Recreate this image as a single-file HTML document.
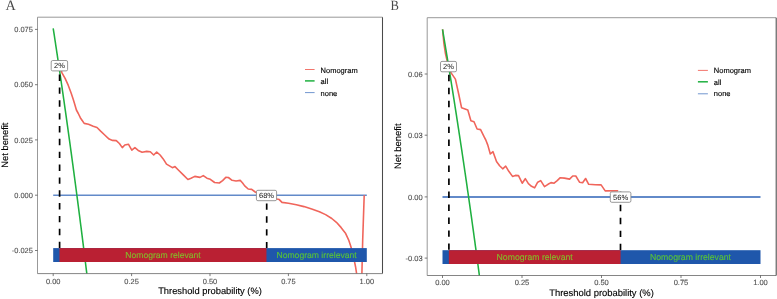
<!DOCTYPE html>
<html><head><meta charset="utf-8"><title>Decision curve analysis</title>
<style>
html,body{margin:0;padding:0;background:#fff;}
svg{display:block;text-rendering:geometricPrecision;font-family:"Liberation Sans",Arial,sans-serif;}
text{stroke-width:0.13px;}
text.tk{stroke-width:0.1px;}
text.lb{stroke-width:0;}
text.ser{font-family:"Liberation Serif","Times New Roman",serif;stroke-width:0;}
</style></head>
<body>
<svg width="777" height="299" viewBox="0 0 777 299">
<rect width="777" height="299" fill="#fff"/>
<clipPath id="ca"><rect x="37.5" y="17.2" width="345.0" height="256.40000000000003"/></clipPath>
<g clip-path="url(#ca)">
<line x1="53.2" y1="195.2" x2="366.8" y2="195.2" stroke="#628AC9" stroke-width="1.6"/>
<path d="M59.60,66.50 L62.10,73.10 L65.10,78.40 L68.20,85.20 L71.20,93.20 L73.20,99.20 L74.50,103.40 L76.40,110.00 L78.30,113.50 L80.30,117.70 L82.20,120.50 L84.20,123.40 L88.50,124.20 L93.20,126.20 L97.00,127.50 L100.90,131.40 L104.70,135.00 L109.10,139.10 L112.50,140.40 L116.30,140.60 L119.40,143.50 L122.30,147.60 L124.80,145.00 L128.40,144.20 L131.80,150.20 L134.90,147.60 L138.20,150.40 L142.10,152.20 L146.70,151.40 L150.30,151.70 L153.70,155.00 L156.70,152.00 L160.10,155.00 L163.20,158.90 L166.50,164.10 L169.90,166.10 L172.40,167.70 L175.00,166.60 L178.10,169.70 L183.30,174.90 L187.90,179.50 L191.00,178.20 L194.80,176.40 L200.00,177.40 L203.30,175.60 L206.90,178.20 L210.30,179.30 L214.60,182.50 L219.30,183.00 L222.60,180.60 L225.80,177.40 L228.40,177.50 L232.10,180.30 L236.00,181.00 L240.20,180.40 L242.40,182.70 L244.70,185.90 L248.20,189.00 L251.70,189.40 L255.20,192.00 L257.50,192.90 L262.00,195.50 L270.00,196.50 L277.00,198.90 L279.30,199.60 L282.00,202.40 L288.50,203.30 L296.30,204.70 L304.00,206.60 L311.70,208.90 L319.40,211.70 L325.60,214.60 L331.80,218.50 L336.40,222.30 L341.00,227.40 L345.70,233.60 L348.60,239.80 L350.70,246.00 L352.50,252.50 L354.20,260.20 L355.60,267.00 L356.60,273.60 L357.00,290.00 L361.50,290.00 L361.90,273.60 L362.70,239.80 L364.20,195.20" fill="none" stroke="#F0655B" stroke-width="1.6" stroke-linejoin="round"/>
<path d="M53.20,28.28 L53.51,30.33 L53.83,32.38 L54.14,34.43 L54.45,36.49 L54.77,38.56 L55.08,40.62 L55.40,42.69 L55.71,44.77 L56.02,46.85 L56.34,48.93 L56.65,51.02 L56.96,53.11 L57.28,55.21 L57.59,57.31 L57.90,59.41 L58.22,61.52 L58.53,63.63 L58.84,65.75 L59.16,67.87 L59.47,70.00 L59.79,72.13 L60.10,74.26 L60.41,76.40 L60.73,78.54 L61.04,80.69 L61.35,82.84 L61.67,85.00 L61.98,87.16 L62.29,89.33 L62.61,91.50 L62.92,93.67 L63.24,95.85 L63.55,98.03 L63.86,100.22 L64.18,102.42 L64.49,104.61 L64.80,106.81 L65.12,109.02 L65.43,111.23 L65.74,113.45 L66.06,115.67 L66.37,117.89 L66.68,120.12 L67.00,122.35 L67.31,124.59 L67.63,126.84 L67.94,129.08 L68.25,131.34 L68.57,133.60 L68.88,135.86 L69.19,138.12 L69.51,140.40 L69.82,142.67 L70.13,144.95 L70.45,147.24 L70.76,149.53 L71.08,151.83 L71.39,154.13 L71.70,156.43 L72.02,158.75 L72.33,161.06 L72.64,163.38 L72.96,165.71 L73.27,168.04 L73.58,170.37 L73.90,172.71 L74.21,175.06 L74.52,177.41 L74.84,179.76 L75.15,182.13 L75.47,184.49 L75.78,186.86 L76.09,189.24 L76.41,191.62 L76.72,194.00 L77.03,196.40 L77.35,198.79 L77.66,201.19 L77.97,203.60 L78.29,206.01 L78.60,208.43 L78.92,210.85 L79.23,213.28 L79.54,215.72 L79.86,218.15 L80.17,220.60 L80.48,223.05 L80.80,225.50 L81.11,227.96 L81.42,230.43 L81.74,232.90 L82.05,235.37 L82.36,237.86 L82.68,240.34 L82.99,242.84 L83.31,245.33 L83.62,247.84 L83.93,250.35 L84.25,252.86 L84.56,255.38 L84.87,257.91 L85.19,260.44 L85.50,262.98 L85.81,265.52 L86.13,268.07 L86.44,270.62 L86.76,273.18 L87.07,275.75 L87.38,278.32 L87.70,280.90 L88.01,283.48 L88.32,286.07 L88.64,288.67 L88.95,291.27 L89.26,293.87 L89.58,296.49 L89.89,299.11 L90.20,301.73 L90.52,304.36 L90.83,307.00 L91.15,309.64 L91.46,312.29 L91.77,314.94 L92.09,317.60 L92.40,320.27 L92.71,322.94 L93.03,325.62 L93.34,328.30 L93.65,331.00 L93.97,333.69 L94.28,336.40 L94.60,339.11 L94.91,341.82 L95.22,344.54 L95.54,347.27 L95.85,350.01 L96.16,352.75 L96.48,355.50 L96.79,358.25 L97.10,361.01 L97.42,363.78 L97.73,366.55 L98.04,369.33 L98.36,372.12 L98.67,374.91 L98.99,377.71 L99.30,380.51 L99.61,383.33 L99.93,386.14 L100.24,388.97 L100.55,391.80 L100.87,394.64 L101.18,397.49 L101.49,400.34 L101.81,403.20 L102.12,406.06 L102.44,408.94 L102.75,411.82 L103.06,414.70 L103.38,417.60" fill="none" stroke="#1FB040" stroke-width="1.55"/>
<line x1="59.6" y1="61.75" x2="59.6" y2="248.1" stroke="#000" stroke-width="1.7" stroke-dasharray="6.4 6.45"/>
<line x1="266.7" y1="190.6" x2="266.7" y2="248.1" stroke="#000" stroke-width="1.7" stroke-dasharray="6.4 6.45"/>
<rect x="53.2" y="248.1" width="313.6" height="13.900000000000006" fill="#1F57AB"/>
<rect x="59.472" y="248.1" width="206.97600000000003" height="13.900000000000006" fill="#BA2033"/>
</g>
<text x="163.0" y="258.2" font-size="8.60" fill="#84BA2A" stroke="#84BA2A" text-anchor="middle">Nomogram relevant</text>
<text x="316.6" y="258.2" font-size="8.60" fill="#58C238" stroke="#58C238" text-anchor="middle">Nomogram irrelevant</text>
<rect x="51.2" y="60.5" width="16.4" height="10.4" rx="1.5" fill="#fff" stroke="#858585" stroke-width="0.85"/>
<text x="59.4" y="68.4" font-size="7.5" class="lb" fill="#111" stroke="#111" text-anchor="middle">2%</text>
<rect x="256.4" y="190.3" width="20.2" height="10.4" rx="1.5" fill="#fff" stroke="#858585" stroke-width="0.85"/>
<text x="266.5" y="198.2" font-size="7.5" class="lb" fill="#111" stroke="#111" text-anchor="middle">68%</text>
<path d="M37.5,273.6 L37.5,17.2 L382.5,17.2" fill="none" stroke="#939393" stroke-width="0.95"/>
<path d="M37.5,273.6 L382.5,273.6" fill="none" stroke="#666" stroke-width="0.8"/>
<path d="M382.5,17.2 L382.5,273.6" fill="none" stroke="#4a4a4a" stroke-width="1.05"/>
<line x1="35.0" y1="29.4" x2="37.5" y2="29.4" stroke="#444" stroke-width="0.7"/>
<text x="32.9" y="32.1" font-size="7.45" class="tk" fill="#4d4d4d" stroke="#4d4d4d" text-anchor="end">0.075</text>
<line x1="35.0" y1="84.7" x2="37.5" y2="84.7" stroke="#444" stroke-width="0.7"/>
<text x="32.9" y="87.4" font-size="7.45" class="tk" fill="#4d4d4d" stroke="#4d4d4d" text-anchor="end">0.050</text>
<line x1="35.0" y1="139.9" x2="37.5" y2="139.9" stroke="#444" stroke-width="0.7"/>
<text x="32.9" y="142.6" font-size="7.45" class="tk" fill="#4d4d4d" stroke="#4d4d4d" text-anchor="end">0.025</text>
<line x1="35.0" y1="195.2" x2="37.5" y2="195.2" stroke="#444" stroke-width="0.7"/>
<text x="32.9" y="197.9" font-size="7.45" class="tk" fill="#4d4d4d" stroke="#4d4d4d" text-anchor="end">0.000</text>
<line x1="35.0" y1="250.5" x2="37.5" y2="250.5" stroke="#444" stroke-width="0.7"/>
<text x="32.9" y="253.2" font-size="7.45" class="tk" fill="#4d4d4d" stroke="#4d4d4d" text-anchor="end">-0.025</text>
<line x1="53.2" y1="273.6" x2="53.2" y2="276.1" stroke="#444" stroke-width="0.7"/>
<text x="53.2" y="284" font-size="7.45" class="tk" fill="#4d4d4d" stroke="#4d4d4d" text-anchor="middle">0.00</text>
<line x1="131.6" y1="273.6" x2="131.6" y2="276.1" stroke="#444" stroke-width="0.7"/>
<text x="131.6" y="284" font-size="7.45" class="tk" fill="#4d4d4d" stroke="#4d4d4d" text-anchor="middle">0.25</text>
<line x1="210.0" y1="273.6" x2="210.0" y2="276.1" stroke="#444" stroke-width="0.7"/>
<text x="210.0" y="284" font-size="7.45" class="tk" fill="#4d4d4d" stroke="#4d4d4d" text-anchor="middle">0.50</text>
<line x1="288.4" y1="273.6" x2="288.4" y2="276.1" stroke="#444" stroke-width="0.7"/>
<text x="288.4" y="284" font-size="7.45" class="tk" fill="#4d4d4d" stroke="#4d4d4d" text-anchor="middle">0.75</text>
<line x1="366.8" y1="273.6" x2="366.8" y2="276.1" stroke="#444" stroke-width="0.7"/>
<text x="366.8" y="284" font-size="7.45" class="tk" fill="#4d4d4d" stroke="#4d4d4d" text-anchor="middle">1.00</text>
<text x="210.0" y="294.4" font-size="9.33" fill="#000" stroke="#000" text-anchor="middle">Threshold probability (%)</text>
<text transform="translate(8.0,145.1) rotate(-90)" font-size="9.33" fill="#000" stroke="#000" text-anchor="middle">Net benefit</text>
<line x1="305" y1="69.5" x2="314.6" y2="69.5" stroke="#F0655B" stroke-width="0.9"/>
<text x="320.6" y="72.6" font-size="7.5" fill="#000" stroke="#000">Nomogram</text>
<line x1="305" y1="80.9" x2="314.6" y2="80.9" stroke="#1FB040" stroke-width="1.5"/>
<text x="320.6" y="83.8" font-size="7.5" fill="#000" stroke="#000">all</text>
<line x1="305" y1="92.6" x2="314.6" y2="92.6" stroke="#628AC9" stroke-width="0.9"/>
<text x="320.6" y="95.8" font-size="7.5" fill="#000" stroke="#000">none</text>
<text transform="translate(5.6,10.1) scale(1.02,1.02)" class="ser" font-size="14" fill="#484848" stroke="#484848">A</text>
<clipPath id="cb"><rect x="427.2" y="17.7" width="349.00000000000006" height="257.8"/></clipPath>
<g clip-path="url(#cb)">
<line x1="442.5" y1="196.95" x2="760.5" y2="196.95" stroke="#628AC9" stroke-width="1.9"/>
<path d="M442.60,29.40 L443.90,43.50 L445.50,53.80 L447.30,61.50 L449.50,68.00 L451.10,72.90 L455.40,79.10 L458.90,95.00 L461.60,107.80 L467.80,110.00 L470.90,120.70 L474.00,121.80 L477.10,129.00 L480.60,129.60 L484.30,137.20 L485.80,140.00 L487.80,145.10 L490.30,154.00 L493.00,151.70 L496.50,161.60 L499.60,165.70 L502.70,168.80 L505.70,166.20 L508.80,171.30 L512.50,176.40 L515.40,175.40 L518.50,175.60 L522.20,183.20 L525.30,178.70 L528.40,183.70 L531.50,186.30 L534.60,187.80 L537.70,182.20 L540.70,180.60 L544.50,186.70 L548.00,184.30 L551.00,182.60 L554.10,183.20 L557.20,180.60 L560.30,177.70 L564.40,178.10 L569.60,179.10 L572.70,176.00 L575.80,176.00 L579.50,182.20 L582.60,182.80 L585.60,178.50 L588.70,184.30 L595.30,184.70 L601.10,184.90 L605.20,190.90 L618.20,190.70" fill="none" stroke="#F0655B" stroke-width="1.6" stroke-linejoin="round"/>
<path d="M442.50,29.36 L442.82,31.24 L443.14,33.12 L443.45,35.00 L443.77,36.89 L444.09,38.79 L444.41,40.68 L444.73,42.58 L445.04,44.49 L445.36,46.40 L445.68,48.31 L446.00,50.23 L446.32,52.15 L446.63,54.07 L446.95,56.00 L447.27,57.93 L447.59,59.86 L447.91,61.80 L448.22,63.75 L448.54,65.70 L448.86,67.65 L449.18,69.60 L449.50,71.56 L449.81,73.53 L450.13,75.49 L450.45,77.46 L450.77,79.44 L451.09,81.42 L451.40,83.40 L451.72,85.39 L452.04,87.38 L452.36,89.38 L452.68,91.38 L452.99,93.38 L453.31,95.39 L453.63,97.41 L453.95,99.42 L454.27,101.44 L454.58,103.47 L454.90,105.50 L455.22,107.53 L455.54,109.57 L455.86,111.61 L456.17,113.66 L456.49,115.71 L456.81,117.76 L457.13,119.82 L457.45,121.89 L457.76,123.95 L458.08,126.03 L458.40,128.10 L458.72,130.18 L459.04,132.27 L459.35,134.36 L459.67,136.45 L459.99,138.55 L460.31,140.66 L460.63,142.76 L460.94,144.88 L461.26,146.99 L461.58,149.11 L461.90,151.24 L462.22,153.37 L462.53,155.50 L462.85,157.64 L463.17,159.79 L463.49,161.93 L463.81,164.09 L464.12,166.25 L464.44,168.41 L464.76,170.57 L465.08,172.75 L465.40,174.92 L465.71,177.10 L466.03,179.29 L466.35,181.48 L466.67,183.67 L466.99,185.87 L467.30,188.08 L467.62,190.29 L467.94,192.50 L468.26,194.72 L468.58,196.95 L468.89,199.17 L469.21,201.41 L469.53,203.65 L469.85,205.89 L470.17,208.14 L470.48,210.39 L470.80,212.65 L471.12,214.91 L471.44,217.18 L471.76,219.45 L472.07,221.73 L472.39,224.01 L472.71,226.30 L473.03,228.60 L473.35,230.89 L473.66,233.20 L473.98,235.51 L474.30,237.82 L474.62,240.14 L474.94,242.46 L475.25,244.79 L475.57,247.13 L475.89,249.47 L476.21,251.81 L476.53,254.16 L476.84,256.52 L477.16,258.88 L477.48,261.24 L477.80,263.61 L478.12,265.99 L478.43,268.37 L478.75,270.76 L479.07,273.15 L479.39,275.55 L479.71,277.95 L480.02,280.36 L480.34,282.78 L480.66,285.20 L480.98,287.62 L481.30,290.05 L481.61,292.49 L481.93,294.93 L482.25,297.38 L482.57,299.83 L482.89,302.29 L483.20,304.76 L483.52,307.23 L483.84,309.70 L484.16,312.19 L484.48,314.67 L484.79,317.17 L485.11,319.66 L485.43,322.17 L485.75,324.68 L486.07,327.20 L486.38,329.72 L486.70,332.25 L487.02,334.78 L487.34,337.32 L487.66,339.86 L487.97,342.42 L488.29,344.97 L488.61,347.54 L488.93,350.11 L489.25,352.68 L489.56,355.26 L489.88,357.85 L490.20,360.44 L490.52,363.04 L490.84,365.65 L491.15,368.26 L491.47,370.88 L491.79,373.51 L492.11,376.14 L492.43,378.77 L492.74,381.42 L493.06,384.07 L493.38,386.72" fill="none" stroke="#1FB040" stroke-width="1.55"/>
<line x1="448.9" y1="61.8" x2="448.9" y2="250.2" stroke="#000" stroke-width="1.7" stroke-dasharray="6.45 6.52"/>
<line x1="620.5" y1="191.75" x2="620.5" y2="250.2" stroke="#000" stroke-width="1.7" stroke-dasharray="6.45 6.52"/>
<rect x="442.5" y="250.2" width="318.0" height="13.800000000000011" fill="#1F57AB"/>
<rect x="448.86" y="250.2" width="171.72000000000003" height="13.800000000000011" fill="#BA2033"/>
</g>
<text x="534.7" y="260.2" font-size="8.69" fill="#84BA2A" stroke="#84BA2A" text-anchor="middle">Nomogram relevant</text>
<text x="690.5" y="260.2" font-size="8.69" fill="#58C238" stroke="#58C238" text-anchor="middle">Nomogram irrelevant</text>
<rect x="440.5" y="61.4" width="16.0" height="10.4" rx="1.5" fill="#fff" stroke="#858585" stroke-width="0.85"/>
<text x="448.5" y="69.3" font-size="7.5" class="lb" fill="#111" stroke="#111" text-anchor="middle">2%</text>
<rect x="610.3" y="191.9" width="20.599999999999998" height="10.4" rx="1.5" fill="#fff" stroke="#858585" stroke-width="0.85"/>
<text x="620.6" y="199.8" font-size="7.5" class="lb" fill="#111" stroke="#111" text-anchor="middle">56%</text>
<path d="M427.2,275.5 L427.2,17.7 L776.2,17.7" fill="none" stroke="#939393" stroke-width="0.95"/>
<path d="M427.2,275.5 L776.2,275.5" fill="none" stroke="#666" stroke-width="0.8"/>
<path d="M776.2,17.7 L776.2,275.5" fill="none" stroke="#4a4a4a" stroke-width="1.05"/>
<line x1="424.7" y1="74.0" x2="427.2" y2="74.0" stroke="#444" stroke-width="0.7"/>
<text x="422.59999999999997" y="76.7" font-size="7.52" class="tk" fill="#4d4d4d" stroke="#4d4d4d" text-anchor="end">0.06</text>
<line x1="424.7" y1="135.2" x2="427.2" y2="135.2" stroke="#444" stroke-width="0.7"/>
<text x="422.59999999999997" y="137.9" font-size="7.52" class="tk" fill="#4d4d4d" stroke="#4d4d4d" text-anchor="end">0.03</text>
<line x1="424.7" y1="196.9" x2="427.2" y2="196.9" stroke="#444" stroke-width="0.7"/>
<text x="422.59999999999997" y="199.6" font-size="7.52" class="tk" fill="#4d4d4d" stroke="#4d4d4d" text-anchor="end">0.00</text>
<line x1="424.7" y1="258.1" x2="427.2" y2="258.1" stroke="#444" stroke-width="0.7"/>
<text x="422.59999999999997" y="260.8" font-size="7.52" class="tk" fill="#4d4d4d" stroke="#4d4d4d" text-anchor="end">-0.03</text>
<line x1="442.5" y1="275.5" x2="442.5" y2="278.0" stroke="#444" stroke-width="0.7"/>
<text x="442.5" y="285.4" font-size="7.52" class="tk" fill="#4d4d4d" stroke="#4d4d4d" text-anchor="middle">0.00</text>
<line x1="522.0" y1="275.5" x2="522.0" y2="278.0" stroke="#444" stroke-width="0.7"/>
<text x="522.0" y="285.4" font-size="7.52" class="tk" fill="#4d4d4d" stroke="#4d4d4d" text-anchor="middle">0.25</text>
<line x1="601.5" y1="275.5" x2="601.5" y2="278.0" stroke="#444" stroke-width="0.7"/>
<text x="601.5" y="285.4" font-size="7.52" class="tk" fill="#4d4d4d" stroke="#4d4d4d" text-anchor="middle">0.50</text>
<line x1="681.0" y1="275.5" x2="681.0" y2="278.0" stroke="#444" stroke-width="0.7"/>
<text x="681.0" y="285.4" font-size="7.52" class="tk" fill="#4d4d4d" stroke="#4d4d4d" text-anchor="middle">0.75</text>
<line x1="760.5" y1="275.5" x2="760.5" y2="278.0" stroke="#444" stroke-width="0.7"/>
<text x="760.5" y="285.4" font-size="7.52" class="tk" fill="#4d4d4d" stroke="#4d4d4d" text-anchor="middle">1.00</text>
<text x="601.5" y="296.2" font-size="9.42" fill="#000" stroke="#000" text-anchor="middle">Threshold probability (%)</text>
<text transform="translate(400.7,146.2) rotate(-90)" font-size="9.42" fill="#000" stroke="#000" text-anchor="middle">Net benefit</text>
<line x1="697.9" y1="70.4" x2="707.9" y2="70.4" stroke="#F0655B" stroke-width="0.9"/>
<text x="713.8" y="73.1" font-size="7.5" fill="#000" stroke="#000">Nomogram</text>
<line x1="697.9" y1="81.8" x2="707.9" y2="81.8" stroke="#1FB040" stroke-width="1.5"/>
<text x="713.8" y="84.5" font-size="7.5" fill="#000" stroke="#000">all</text>
<line x1="697.9" y1="93.8" x2="707.9" y2="93.8" stroke="#628AC9" stroke-width="0.9"/>
<text x="713.8" y="96.0" font-size="7.5" fill="#000" stroke="#000">none</text>
<text transform="translate(390.6,10.1) scale(0.9,1.02)" class="ser" font-size="14" fill="#484848" stroke="#484848">B</text>
</svg>
</body></html>
